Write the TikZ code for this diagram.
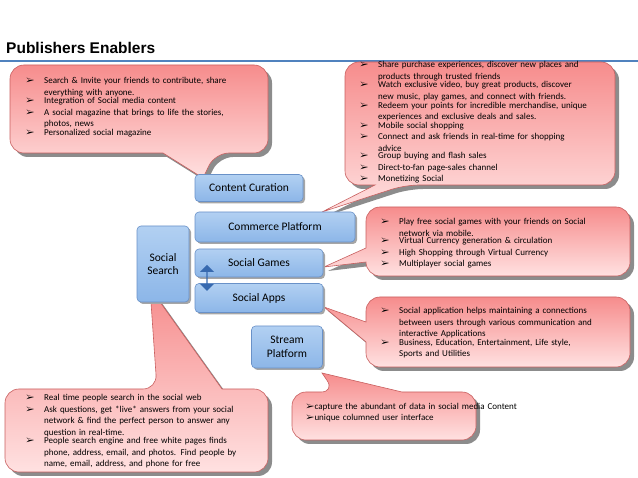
\documentclass[tikz,border=0pt]{standalone}
\usepackage{fontspec}
\setmainfont{Carlito}
\newfontfamily\titlefont{Liberation Sans}
\usepackage{pifont}
\usetikzlibrary{shadows,shapes.arrows}
\definecolor{cpink}{RGB}{246,140,140}
\definecolor{clight}{RGB}{255,225,225}
\definecolor{cborder}{RGB}{200,95,95}
\definecolor{bluetop}{RGB}{178,208,242}
\definecolor{bluebot}{RGB}{140,182,232}
\definecolor{blueborder}{RGB}{105,145,200}
\definecolor{titleline}{RGB}{80,130,190}
\definecolor{darrow}{RGB}{55,105,175}
\newcommand{\bit}[1]{\par\noindent\makebox[20pt][l]{\hspace{2pt}\ding{226}}\parbox[t]{\dimexpr\linewidth-20pt}{\raggedright #1}\par}
\tikzset{
  callout/.style={top color=cpink,bottom color=clight,draw=cborder,line width=0.6pt,
    drop shadow={shadow xshift=4pt,shadow yshift=-4pt,fill=black!45,opacity=1}},
  box/.style={draw=blueborder,line width=0.6pt,top color=bluetop,bottom color=bluebot,
    rounded corners=4pt,align=center,font=\fontsize{11.5}{13.5}\selectfont,
    drop shadow={shadow xshift=2pt,shadow yshift=-2pt,fill=black!35,opacity=1},inner sep=0pt},
  txt/.style={anchor=north west,inner sep=0pt,font=\fontsize{9}{11.5}\selectfont},
}
\begin{document}
\begin{tikzpicture}[x=1pt,y=-1pt]
\useasboundingbox (0,0) rectangle (638,478);
\node[anchor=west,inner sep=0pt,font=\titlefont\bfseries\fontsize{15.5}{17}\selectfont] (title) at (6,48) {Publishers Enablers};
\draw[titleline,line width=2.5pt] (0,61) -- (638,61);
% callouts
\path[callout,rounded corners=14pt] (10,65) -- (268,65) -- (268,153) -- (215,153) [sharp corners] -- (203,178) -- (163,153) [rounded corners=14pt] -- (10,153) -- cycle;
\path[callout,rounded corners=14pt] (345,62) -- (615,62) -- (615,185) -- (405,185) [sharp corners] -- (322,212) -- (375,185) [rounded corners=14pt] -- (345,185) -- cycle;
\path[callout,rounded corners=14pt] (366,207) -- (630,207) -- (630,276) -- (366,276) [sharp corners] -- (366,262) -- (324,267) -- (366,248) [rounded corners=14pt] -- cycle;
\path[callout,rounded corners=14pt] (366,297) -- (630,297) -- (630,367) -- (366,367) [sharp corners] -- (366,342) -- (324,307) -- (366,322) [rounded corners=14pt] -- cycle;
\path[callout,rounded corners=14pt] (292,392) -- (335,392) [sharp corners] -- (322,373) -- (402,392) [rounded corners=14pt] -- (476,392) -- (476,440) -- (292,440) -- cycle;
\path[callout,rounded corners=14pt] (5,389) -- (157,389) [sharp corners] -- (150,288) -- (222,389) [rounded corners=14pt] -- (268,389) -- (268,472) -- (5,472) -- cycle;
% texts
\node[txt,text width=250pt] (t1) at (24,72) {\bit{Search \& Invite your friends to contribute, share\\ everything with anyone.}\bit{Integration of Social media content}\bit{A social magazine that brings to life the stories,\\ photos, news}\bit{Personalized social magazine}};
\node[txt,text width=275pt] (t2) at (358,56) {\bit{Share purchase experiences, discover new places and\\ products through trusted friends}\bit{Watch exclusive video, buy great products, discover\\ new music, play games, and connect with friends.}\bit{Redeem your points for incredible merchandise, unique\\ experiences and exclusive deals and sales.}\bit{Mobile social shopping}\bit{Connect and ask friends in real-time for shopping\\ advice}\bit{Group buying and flash sales}\bit{Direct-to-fan page-sales channel}\bit{Monetizing Social}};
\node[txt,text width=260pt] (t3) at (379,213) {\bit{Play free social games with your friends on Social\\ network via mobile.}\bit{Virtual Currency generation \& circulation}\bit{High Shopping through Virtual Currency}\bit{Multiplayer social games}};
\node[txt,text width=260pt] (t4) at (379,302) {\bit{Social application helps maintaining a connections\\ between users through various communication and\\ interactive Applications}\bit{Business, Education, Entertainment, Life style,\\ Sports and Utilities}};
\node[txt,text width=260pt,align=left] (t5) at (306,403) {\ding{226}capture the abundant of data in social media Content\\ \ding{226}unique columned user interface};
\node[txt,text width=260pt] (t6) at (24,389) {\bit{Real time people search in the social web}\bit{Ask questions, get *live* answers from your social\\ network \& find the perfect person to answer any\\ question in real-time.}\bit{People search engine and free white pages finds\\ phone, address, email, and photos. Find people by\\ name, email, address, and phone for free}};
% boxes
\node[box,minimum width=108pt,minimum height=27pt] (cc) at (249,188) {Content Curation};
\node[box,minimum width=160pt,minimum height=30pt] (cp) at (275,227) {Commerce Platform};
\node[box,minimum width=128pt,minimum height=28pt] (sg) at (259,263) {Social Games};
\node[box,minimum width=128pt,minimum height=29pt] (sa) at (259,298) {Social Apps};
\node[box,minimum width=52pt,minimum height=76pt] (ss) at (163,264) {Social\\Search};
\node[box,minimum width=71pt,minimum height=42pt] (sp) at (287,347) {Stream\\Platform};
\node[double arrow,fill=darrow,rotate=90,minimum height=26pt,minimum width=14pt,double arrow head extend=2pt,inner sep=0pt] (da) at (207,278) {};
\end{tikzpicture}
\end{document}
